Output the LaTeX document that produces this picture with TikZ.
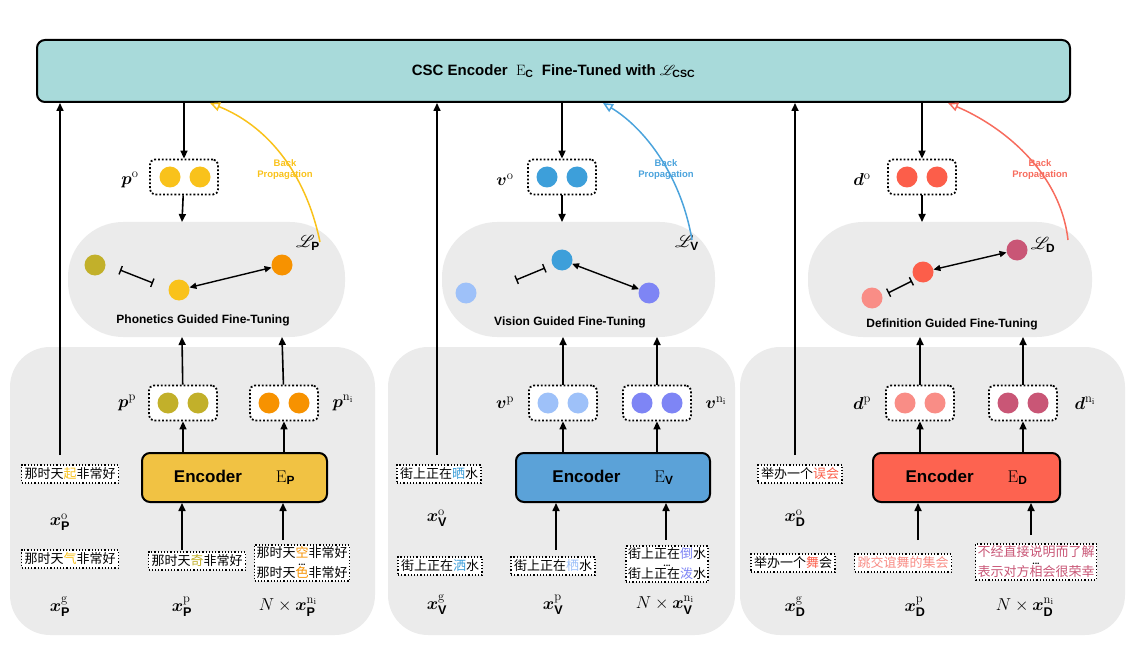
\documentclass[tikz,border=0pt]{standalone}
\usepackage{fontspec}
\usepackage{amsmath,bm,mathrsfs}
\setsansfont{Liberation Sans}
\newfontfamily\cjk{Noto Sans CJK SC}
\usetikzlibrary{arrows.meta,positioning}
\definecolor{teal}{HTML}{A8DADA}
\definecolor{panel}{HTML}{EBEBEB}
\definecolor{pY}{HTML}{F9C21B}\definecolor{pO}{HTML}{C2B02A}\definecolor{pR}{HTML}{F79200}
\definecolor{vB}{HTML}{3D9FDA}\definecolor{vL}{HTML}{9EC1F9}\definecolor{vP}{HTML}{7E85F5}
\definecolor{dR}{HTML}{FC5E4A}\definecolor{dP}{HTML}{F98D86}\definecolor{dM}{HTML}{C95676}
\definecolor{encP}{HTML}{F1C243}\definecolor{encV}{HTML}{5BA2D8}\definecolor{encD}{HTML}{FD6350}
\definecolor{bpP}{HTML}{F9C21B}\definecolor{bpV}{HTML}{4BA3DC}\definecolor{bpD}{HTML}{F76C5E}
\newcommand{\mysub}[1]{\textsf{\textbf{#1}}}
\begin{document}
\begin{tikzpicture}[x=1pt,y=-1pt,
  arr/.style={-{Triangle[length=8pt,width=7pt]},line width=1.6pt},
  emb/.style={draw,dotted,line width=1.8pt,fill=white,rounded corners=5pt,minimum width=68pt,minimum height=35pt},
  sdot/.style={circle,minimum size=21pt,inner sep=0pt},
  tbox/.style={draw,dotted,line width=1.2pt,fill=white,inner sep=3pt,font=\cjk\fontsize{13}{15}\selectfont},
  enc/.style={draw,line width=2pt,rounded corners=8pt,minimum width=185pt,minimum height=49pt,font=\sffamily\bfseries\fontsize{17}{20}\selectfont},
  lab/.style={font=\fontsize{18}{20}\selectfont},
  captxt/.style={font=\sffamily\bfseries\fontsize{12}{14}\selectfont},
  bp/.style={line width=1.5pt,-{Triangle[length=10pt,width=9pt,fill=white]}},
  bptext/.style={font=\sffamily\bfseries\fontsize{9.5}{11}\selectfont,align=center},
  inh/.style={{Bar[width=9pt]}-{Bar[width=9pt]},line width=1.4pt},
  dbl/.style={{Triangle[length=7pt,width=6pt]}-{Triangle[length=7pt,width=6pt]},line width=1.4pt}]
\useasboundingbox (0,0) rectangle (1134,652);
% top bar
\node[draw,line width=2pt,fill=teal,rounded corners=8pt,minimum width=1033pt,minimum height=62pt,font=\sffamily\bfseries\fontsize{15}{18}\selectfont] (top) at (553.5,71) {CSC Encoder\ \ $\mathrm{E}_{\mysub{C}}$\ \ Fine-Tuned with $\mathscr{L}_{\mysub{CSC}}$};
% panels
\fill[panel,rounded corners=40pt] (10,347) rectangle (375,635);
\fill[panel,rounded corners=40pt] (388,347) rectangle (735,635);
\fill[panel,rounded corners=40pt] (740,347) rectangle (1125,635);
\fill[panel,rounded corners=55pt] (68,222) rectangle (345,337);
\fill[panel,rounded corners=55pt] (442,222) rectangle (715,337);
\fill[panel,rounded corners=55pt] (808,222) rectangle (1092,337);
\coordinate (ovP) at (182,222); \coordinate (ovPb1) at (182,337); \coordinate (ovPb2) at (282,337);
\coordinate (ovV) at (560,222); \coordinate (ovVb1) at (563,337); \coordinate (ovVb2) at (657,337);
\coordinate (ovD) at (920,222); \coordinate (ovDb1) at (920,337); \coordinate (ovDb2) at (1023,337);

%%%%%%%% P
\node[emb] (po) at (184,177) {};
\node[sdot,fill=pY] at (170,177) {}; \node[sdot,fill=pY] at (200,177) {};
\node[lab] at (130,180) {$\bm{p}^{\mathrm{o}}$};
\draw[arr] (top.south -| po) -- (po);
\draw[arr] (po) -- (ovP);
\node[sdot,fill=pO] (p1) at (95,265) {};
\node[sdot,fill=pY] (p2) at (179,290) {};
\node[sdot,fill=pR] (p3) at (282,265) {};
\draw[inh] (120,270) -- (153,283);
\draw[dbl] (p2) -- (p3);
\node[lab,font=\fontsize{17}{20}\selectfont] at (308,243) {$\mathscr{L}_{\mysub{P}}$};
\node[captxt] at (203,320) {Phonetics Guided Fine-Tuning};
\coordinate (bpPe) at (210,103);
\draw[bp,bpP] (320,242) .. controls (305,170) and (265,125) .. (bpPe);
\node[bptext,bpP] at (285,170) {Back\\Propagation};
\node[emb] (pp) at (183,403) {};
\node[sdot,fill=pO] at (168,403) {}; \node[sdot,fill=pO] at (198,403) {};
\node[emb] (pn) at (284,403) {};
\node[sdot,fill=pR] at (269,403) {}; \node[sdot,fill=pR] at (299,403) {};
\node[lab] at (127,403) {$\bm{p}^{\mathrm{p}}$};
\node[lab] at (343,403) {$\bm{p}^{\mathrm{n_i}}$};
\draw[arr] (pp) -- (ovPb1); \draw[arr] (pn) -- (ovPb2);
\node[enc,fill=encP] (eP) at (234.5,477.5) {Encoder\qquad{\mdseries\rmfamily E}$_{\mysub{P}}$};
\draw[arr] (eP.north -| pp) -- (pp); \draw[arr] (eP.north -| pn) -- (pn);
\node[tbox] (tPo) at (70,474) {那时天{\color{pY}起}非常好};
\coordinate (aP0) at (60,455);
\draw[arr] (aP0) -- (aP0 |- top.south);
\node[lab] at (60,522) {$\bm{x}^{\mathrm{o}}_{\mysub{P}}$};
\node[tbox] (tPg) at (70,559) {那时天{\color{pY}气}非常好};
\node[tbox] (tPp) at (197,561) {那时天{\color{pO}奇}非常好};
\node[tbox,align=center,inner sep=2pt] (tPn) at (302,563) {那时天{\color{pR}空}非常好\\[-7pt]{\fontsize{7}{7}\selectfont\textbf{...}}\\[-3pt]那时天{\color{pR}色}非常好};
\coordinate (aP1) at (182,550); \coordinate (aP2) at (283,540);
\draw[arr] (aP1) -- (aP1 |- eP.south);
\draw[arr] (aP2) -- (aP2 |- eP.south);
\node[lab] at (60,607) {$\bm{x}^{\mathrm{g}}_{\mysub{P}}$};
\node[lab] at (182,607) {$\bm{x}^{\mathrm{p}}_{\mysub{P}}$};
\node[lab] at (288,607) {$N\times\bm{x}^{\mathrm{n_i}}_{\mysub{P}}$};

%%%%%%%% V
\node[emb] (vo) at (562,177) {};
\node[sdot,fill=vB] at (547,177) {}; \node[sdot,fill=vB] at (577,177) {};
\node[lab] at (505,180) {$\bm{v}^{\mathrm{o}}$};
\draw[arr] (top.south -| vo) -- (vo);
\draw[arr] (vo) -- (vo |- ovV);
\node[sdot,fill=vL] (v1) at (466,293) {};
\node[sdot,fill=vB] (v2) at (562,260) {};
\node[sdot,fill=vP] (v3) at (649,293) {};
\draw[inh] (516,280) -- (545,268);
\draw[dbl] (v2) -- (v3);
\node[lab,font=\fontsize{17}{20}\selectfont] at (687,243) {$\mathscr{L}_{\mysub{V}}$};
\node[captxt] at (570,322) {Vision Guided Fine-Tuning};
\coordinate (bpVe) at (603,103);
\draw[bp,bpV] (692,240) .. controls (680,170) and (640,125) .. (bpVe);
\node[bptext,bpV] at (666,170) {Back\\Propagation};
\node[emb] (vp) at (563,403) {};
\node[sdot,fill=vL] at (548,403) {}; \node[sdot,fill=vL] at (578,403) {};
\node[emb] (vn) at (657,403) {};
\node[sdot,fill=vP] at (642,403) {}; \node[sdot,fill=vP] at (672,403) {};
\node[lab] at (505,403) {$\bm{v}^{\mathrm{p}}$};
\node[lab] at (716,403) {$\bm{v}^{\mathrm{n_i}}$};
\draw[arr] (vp) -- (ovVb1); \draw[arr] (vn) -- (ovVb2);
\node[enc,fill=encV,minimum width=194pt] (eV) at (613,477.5) {Encoder\qquad{\mdseries\rmfamily E}$_{\mysub{V}}$};
\draw[arr] (eV.north -| vp) -- (vp); \draw[arr] (eV.north -| vn) -- (vn);
\node[tbox] (tVo) at (439,474) {街上正在{\color{vB}晒}水};
\coordinate (aV0) at (437,455);
\draw[arr] (aV0) -- (aV0 |- top.south);
\node[lab] at (437,518) {$\bm{x}^{\mathrm{o}}_{\mysub{V}}$};
\node[tbox] (tVg) at (440,566) {街上正在{\color{vB}洒}水};
\node[tbox] (tVp) at (553,566) {街上正在{\color{vL}栖}水};
\node[tbox,align=center,inner sep=2pt] (tVn) at (667,564) {街上正在{\color{vP}倒}水\\[-7pt]{\fontsize{7}{7}\selectfont\textbf{...}}\\[-3pt]街上正在{\color{vP}泼}水};
\coordinate (aV1) at (556,550); \coordinate (aV2) at (666,540);
\draw[arr] (aV1) -- (aV1 |- eV.south);
\draw[arr] (aV2) -- (aV2 |- eV.south);
\node[lab] at (437,605) {$\bm{x}^{\mathrm{g}}_{\mysub{V}}$};
\node[lab] at (553,605) {$\bm{x}^{\mathrm{p}}_{\mysub{V}}$};
\node[lab] at (665,605) {$N\times\bm{x}^{\mathrm{n_i}}_{\mysub{V}}$};

%%%%%%%% D
\node[emb] (do) at (922,177) {};
\node[sdot,fill=dR] at (907,177) {}; \node[sdot,fill=dR] at (937,177) {};
\node[lab] at (862,180) {$\bm{d}^{\mathrm{o}}$};
\draw[arr] (top.south -| do) -- (do);
\draw[arr] (do) -- (do |- ovD);
\node[sdot,fill=dP] (d1) at (872,298) {};
\node[sdot,fill=dR] (d2) at (923,272) {};
\node[sdot,fill=dM] (d3) at (1017,250) {};
\draw[inh] (888,293) -- (912,281);
\draw[dbl] (d2) -- (d3);
\node[lab,font=\fontsize{17}{20}\selectfont] at (1043,245) {$\mathscr{L}_{\mysub{D}}$};
\node[captxt] at (952,324) {Definition Guided Fine-Tuning};
\coordinate (bpDe) at (948,103);
\draw[bp,bpD] (1068,240) .. controls (1060,170) and (1000,125) .. (bpDe);
\node[bptext,bpD] at (1040,170) {Back\\Propagation};
\node[emb] (dp) at (920,403) {};
\node[sdot,fill=dP] at (905,403) {}; \node[sdot,fill=dP] at (935,403) {};
\node[emb] (dn) at (1023,403) {};
\node[sdot,fill=dM] at (1008,403) {}; \node[sdot,fill=dM] at (1038,403) {};
\node[lab] at (862,403) {$\bm{d}^{\mathrm{p}}$};
\node[lab] at (1085,403) {$\bm{d}^{\mathrm{n_i}}$};
\draw[arr] (dp) -- (ovDb1); \draw[arr] (dn) -- (ovDb2);
\node[enc,fill=encD,minimum width=187pt] (eD) at (966.5,477.5) {Encoder\qquad{\mdseries\rmfamily E}$_{\mysub{D}}$};
\draw[arr] (eD.north -| dp) -- (dp); \draw[arr] (eD.north -| dn) -- (dn);
\node[tbox] (tDo) at (800,474) {举办一个{\color{dR}误会}};
\coordinate (aD0) at (795,455);
\draw[arr] (aD0) -- (aD0 |- top.south);
\node[lab] at (795,518) {$\bm{x}^{\mathrm{o}}_{\mysub{D}}$};
\node[tbox] (tDg) at (793,563) {举办一个{\color{dR}舞}会};
\node[tbox,text=dP] (tDp) at (903,563) {跳交谊舞的集会};
\node[tbox,align=center,inner sep=2pt,text=dM] (tDn) at (1036,562) {不经直接说明而了解\\[-7pt]{\color{black}\fontsize{7}{7}\selectfont\textbf{...}}\\[-3pt]表示对方相会很荣幸};
\coordinate (aD1) at (918,540); \coordinate (aD2) at (1031,535);
\draw[arr] (aD1) -- (aD1 |- eD.south);
\draw[arr] (aD2) -- (aD2 |- eD.south);
\node[lab] at (795,607) {$\bm{x}^{\mathrm{g}}_{\mysub{D}}$};
\node[lab] at (915,607) {$\bm{x}^{\mathrm{p}}_{\mysub{D}}$};
\node[lab] at (1025,607) {$N\times\bm{x}^{\mathrm{n_i}}_{\mysub{D}}$};
\end{tikzpicture}
\end{document}
